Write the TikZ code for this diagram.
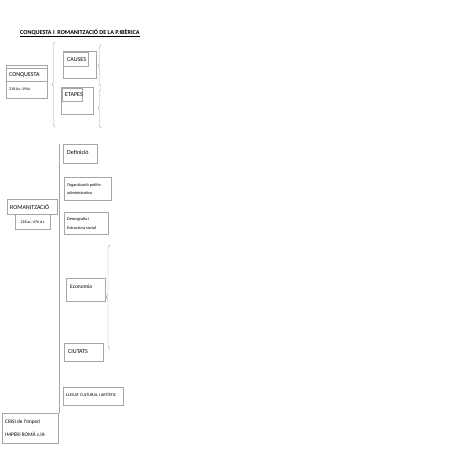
\documentclass[tikz,border=0pt]{standalone}
\usepackage{fontspec}
\setmainfont{Carlito}
\usetikzlibrary{decorations.pathreplacing}
\tikzset{
  box/.style={draw=gray!70, line width=0.4pt, anchor=north west, inner sep=0pt},
  txt/.style={anchor=west, inner sep=0pt, font=\fontsize{6}{7}\selectfont},
  small/.style={anchor=west, inner sep=0pt, align=left, font=\fontsize{4.3}{8}\selectfont},
  brace/.style={draw=gray!70, line width=0.4pt, decorate, decoration={brace, amplitude=3pt}},
  line/.style={draw=gray!70, line width=0.5pt}
}

\begin{document}
\begin{tikzpicture}[x=1pt,y=-1pt]
		\useasboundingbox (0,0) rectangle (453,453);
		\node[anchor=west, inner sep=0pt, font=\bfseries\fontsize{6.1}{7}\selectfont] (title) at (20,33) {\underline{CONQUESTA I\ \ ROMANITZACIÓ DE LA P.IBÈRICA}};
		\node[box, minimum width=41pt, minimum height=33pt] (conq) at (6,65) {};
		\node[box, minimum width=41pt, minimum height=13pt] (conqhead) at (6,68) {};
		\node[txt] (conqtxt) at ([xshift=3pt]conqhead.west) {CONQUESTA};
		\node[small, font=\fontsize{4}{8}\selectfont] (conqdate) at (9,89) {218 Ac.-19Ac.};
		\node[box, minimum width=33pt, minimum height=27pt] (causes) at (63,51) {};
		\node[box, minimum width=25pt, minimum height=14pt] (causeshead) at (63,52) {};
		\node[txt] (causestxt) at ([xshift=4pt]causeshead.west) {CAUSES};
		\node[box, minimum width=32pt, minimum height=27pt] (etapes) at (61,87) {};
		\node[box, minimum width=20pt, minimum height=13pt] (etapeshead) at (62,88) {};
		\node[txt] (etapestxt) at ([xshift=3pt]etapeshead.west) {ETAPES};
		\coordinate (b1t) at (55,42);
		\coordinate (b1b) at (55,127);
		\draw[brace] (b1b) -- (b1t);
		\coordinate (b2t) at (101,45);
		\coordinate (b2b) at (101,86);
		\draw[brace] (b2b) -- (b2t);
		\coordinate (b3t) at (101,89);
		\coordinate (b3b) at (101,128);
		\draw[brace] (b3b) -- (b3t);
		\coordinate (vtop) at (59,144);
		\coordinate (vbot) at (59,413);
		\draw[line] (vtop) -- (vbot);
		\node[box, minimum width=34pt, minimum height=19pt] (def) at (63,144) {};
		\node[txt] (deftxt) at ([xshift=4pt,yshift=1pt]def.west) {Definició};
		\node[box, minimum width=47pt, minimum height=23pt] (org) at (64,177) {};
		\node[small] (orgtxt) at ([xshift=3pt]org.west) {Organització polític-\\administrativa};
		\node[box, minimum width=50pt, minimum height=15pt] (roma) at (7,199) {};
		\node[txt] (romatxt) at ([xshift=3pt]roma.west) {ROMANITZACIÓ};
		\node[box, minimum width=35pt, minimum height=15pt] (romadate) at (15,214) {};
		\node[small, anchor=center, font=\fontsize{4}{8}\selectfont] (romadatetxt) at (romadate.center) {218 ac.-476 d.c};
		\node[box, minimum width=44pt, minimum height=22pt] (demo) at (64,212) {};
		\node[small, font=\fontsize{4.3}{9}\selectfont] (demotxt) at ([xshift=3pt]demo.west) {Demografia i\\Estructura social};
		\coordinate (b4t) at (110,245);
		\coordinate (b4b) at (110,349);
		\draw[brace, decoration={amplitude=4pt}] (b4b) -- (b4t);
		\node[box, minimum width=39pt, minimum height=23pt] (eco) at (66,278) {};
		\node[txt, font=\fontsize{5.5}{6}\selectfont] (ecotxt) at ([xshift=4pt,yshift=3pt]eco.west) {Economia};
		\node[box, minimum width=39pt, minimum height=18pt] (ciu) at (64,343) {};
		\node[txt] (ciutxt) at ([xshift=4pt,yshift=1pt]ciu.west) {CIUTATS};
		\node[box, minimum width=60pt, minimum height=18pt] (llegat) at (63,387) {};
		\node[small] (llegattxt) at ([xshift=3pt,yshift=1pt]llegat.west) {LLEGAT CULTURAL I ARTÍSTIC};
		\node[box, minimum width=56pt, minimum height=30pt] (crisi) at (2,413) {};
		\node[small, font=\fontsize{5.3}{13}\selectfont] (crisitxt) at ([xshift=3pt]crisi.west) {CRISI de l'Imperi\\IMPERI ROMÀ s.III-};
	\end{tikzpicture}
\end{document}
